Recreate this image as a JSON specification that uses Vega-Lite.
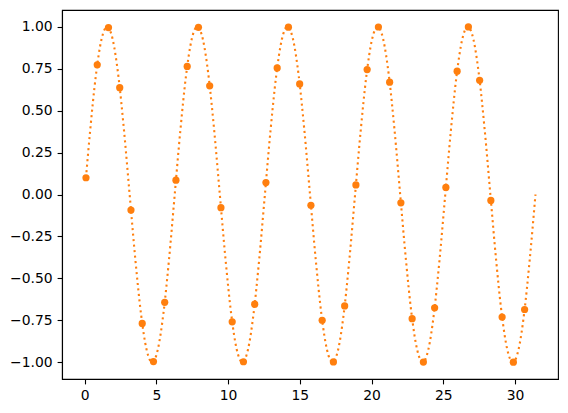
{
  "$schema": "https://vega.github.io/schema/vega-lite/v6.json",
  "width": 496,
  "height": 369,
  "autosize": {"type": "none"},
  "padding": {"left": 62, "top": 10, "right": 10, "bottom": 34},
  "background": "white",
  "config": {
    "view": {"stroke": "black", "strokeWidth": 1.1},
    "axis": {
      "domainColor": "black",
      "domainWidth": 1.1,
      "tickColor": "black",
      "tickWidth": 1.1,
      "tickSize": 4.9,
      "labelFont": "DejaVu Sans",
      "labelFontSize": 13.9,
      "labelColor": "black",
      "labelPadding": 5,
      "grid": false,
      "title": null
    }
  },
  "datasets": {
    "line": [
      {"x": 0.1, "y": 0.0998}, {"x": 0.3927, "y": 0.3827}, {"x": 0.7854, "y": 0.7071}, {"x": 1.1781, "y": 0.9239},
      {"x": 1.5708, "y": 1}, {"x": 1.9635, "y": 0.9239}, {"x": 2.3562, "y": 0.7071}, {"x": 2.7489, "y": 0.3827},
      {"x": 3.1416, "y": 0}, {"x": 3.5343, "y": -0.3827}, {"x": 3.927, "y": -0.7071}, {"x": 4.3197, "y": -0.9239},
      {"x": 4.7124, "y": -1}, {"x": 5.1051, "y": -0.9239}, {"x": 5.4978, "y": -0.7071}, {"x": 5.8905, "y": -0.3827},
      {"x": 6.2832, "y": 0}, {"x": 6.6759, "y": 0.3827}, {"x": 7.0686, "y": 0.7071}, {"x": 7.4613, "y": 0.9239},
      {"x": 7.854, "y": 1}, {"x": 8.2467, "y": 0.9239}, {"x": 8.6394, "y": 0.7071}, {"x": 9.0321, "y": 0.3827},
      {"x": 9.4248, "y": 0}, {"x": 9.8175, "y": -0.3827}, {"x": 10.2102, "y": -0.7071}, {"x": 10.6029, "y": -0.9239},
      {"x": 10.9956, "y": -1}, {"x": 11.3883, "y": -0.9239}, {"x": 11.781, "y": -0.7071}, {"x": 12.1737, "y": -0.3827},
      {"x": 12.5664, "y": 0}, {"x": 12.9591, "y": 0.3827}, {"x": 13.3518, "y": 0.7071}, {"x": 13.7445, "y": 0.9239},
      {"x": 14.1372, "y": 1}, {"x": 14.5299, "y": 0.9239}, {"x": 14.9226, "y": 0.7071}, {"x": 15.3153, "y": 0.3827},
      {"x": 15.708, "y": 0}, {"x": 16.1007, "y": -0.3827}, {"x": 16.4934, "y": -0.7071}, {"x": 16.8861, "y": -0.9239},
      {"x": 17.2788, "y": -1}, {"x": 17.6715, "y": -0.9239}, {"x": 18.0642, "y": -0.7071}, {"x": 18.4569, "y": -0.3827},
      {"x": 18.8496, "y": 0}, {"x": 19.2423, "y": 0.3827}, {"x": 19.635, "y": 0.7071}, {"x": 20.0277, "y": 0.9239},
      {"x": 20.4204, "y": 1}, {"x": 20.8131, "y": 0.9239}, {"x": 21.2058, "y": 0.7071}, {"x": 21.5985, "y": 0.3827},
      {"x": 21.9911, "y": 0}, {"x": 22.3838, "y": -0.3827}, {"x": 22.7765, "y": -0.7071}, {"x": 23.1692, "y": -0.9239},
      {"x": 23.5619, "y": -1}, {"x": 23.9546, "y": -0.9239}, {"x": 24.3473, "y": -0.7071}, {"x": 24.74, "y": -0.3827},
      {"x": 25.1327, "y": 0}, {"x": 25.5254, "y": 0.3827}, {"x": 25.9181, "y": 0.7071}, {"x": 26.3108, "y": 0.9239},
      {"x": 26.7035, "y": 1}, {"x": 27.0962, "y": 0.9239}, {"x": 27.4889, "y": 0.7071}, {"x": 27.8816, "y": 0.3827},
      {"x": 28.2743, "y": 0}, {"x": 28.667, "y": -0.3827}, {"x": 29.0597, "y": -0.7071}, {"x": 29.4524, "y": -0.9239},
      {"x": 29.8451, "y": -1}, {"x": 30.2378, "y": -0.9239}, {"x": 30.6305, "y": -0.7071}, {"x": 31.0232, "y": -0.3827},
      {"x": 31.4159, "y": 0}
    ],
    "pts": [
      {"x": 0.1, "y": 0.0998}, {"x": 0.8836, "y": 0.773}, {"x": 1.6672, "y": 0.9954}, {"x": 2.4508, "y": 0.6371},
      {"x": 3.2344, "y": -0.0927}, {"x": 4.018, "y": -0.7685}, {"x": 4.8016, "y": -0.996}, {"x": 5.5852, "y": -0.6427},
      {"x": 6.3688, "y": 0.0855}, {"x": 7.1524, "y": 0.7638}, {"x": 7.936, "y": 0.9966}, {"x": 8.7196, "y": 0.6482},
      {"x": 9.5032, "y": -0.0783}, {"x": 10.2868, "y": -0.7591}, {"x": 11.0704, "y": -0.9972}, {"x": 11.854, "y": -0.6537},
      {"x": 12.6376, "y": 0.0711}, {"x": 13.4212, "y": 0.7544}, {"x": 14.2048, "y": 0.9977}, {"x": 14.9884, "y": 0.6591},
      {"x": 15.772, "y": -0.064}, {"x": 16.5556, "y": -0.7497}, {"x": 17.3392, "y": -0.9982}, {"x": 18.1228, "y": -0.6645},
      {"x": 18.9064, "y": 0.0568}, {"x": 19.69, "y": 0.7449}, {"x": 20.4736, "y": 0.9986}, {"x": 21.2572, "y": 0.6698},
      {"x": 22.0408, "y": -0.0496}, {"x": 22.8244, "y": -0.7401}, {"x": 23.608, "y": -0.9989}, {"x": 24.3916, "y": -0.6752},
      {"x": 25.1752, "y": 0.0424}, {"x": 25.9588, "y": 0.7352}, {"x": 26.7424, "y": 0.9992}, {"x": 27.526, "y": 0.6805},
      {"x": 28.3096, "y": -0.0352}, {"x": 29.0932, "y": -0.7303}, {"x": 29.8768, "y": -0.9995}, {"x": 30.6604, "y": -0.6857}
    ]
  },
  "encoding": {
    "x": {
      "field": "x",
      "type": "quantitative",
      "scale": {"domain": [-1.571, 32.987], "nice": false, "zero": false},
      "axis": {"values": [0, 5, 10, 15, 20, 25, 30], "format": "d", "title": null}
    },
    "y": {
      "field": "y",
      "type": "quantitative",
      "scale": {"domain": [-1.1, 1.1], "nice": false, "zero": false},
      "axis": {"values": [-1, -0.75, -0.5, -0.25, 0, 0.25, 0.5, 0.75, 1], "format": ".2f", "title": null}
    }
  },
  "layer": [
    {
      "data": {"name": "line"},
      "mark": {"type": "line", "color": "#ff7f0e", "strokeWidth": 2.1, "strokeDash": [2.1, 3.4], "strokeCap": "butt", "interpolate": "monotone"}
    },
    {
      "data": {"name": "pts"},
      "mark": {"type": "circle", "color": "#ff7f0e", "opacity": 1, "size": 52}
    }
  ]
}
